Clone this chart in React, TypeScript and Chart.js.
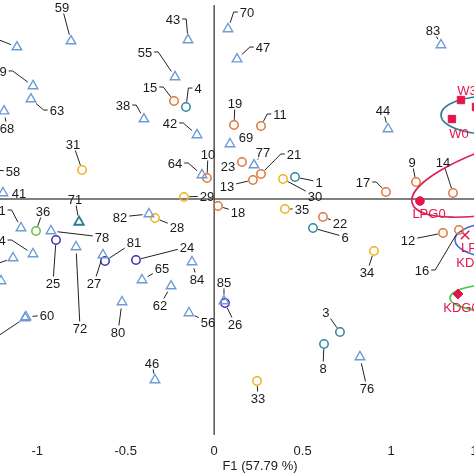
import React, { useEffect, useRef } from 'react';
import { Chart, registerables } from 'chart.js';

Chart.register(...registerables);

// ---------- data: [label, F1, F2] ----------
type P = [string, number, number];
// placement of label relative to marker: [dx px, dy px, mode] mode: 0 leader, 1 hooked leader, -1 no leader
type Pl = [number, number, number] | null;

const triPoints: P[] = [
  ['', -1.115, 0.859], ['59', -0.8095, 0.893], ['9', -1.024, 0.639], ['63', -1.036, 0.565],
  ['68', -1.188, 0.497], ['38', -0.397, 0.452], ['43', -0.148, 0.899], ['55', -0.2216, 0.69],
  ['42', -0.0972, 0.362], ['70', 0.078, 0.961], ['47', 0.129, 0.791], ['69', 0.0893, 0.311],
  ['64', -0.069, 0.1357], ['77', 0.225, 0.192], ['82', -0.3686, -0.0848], ['84', -0.1255, -0.356],
  ['65', -0.408, -0.458], ['62', -0.244, -0.492], ['85', 0.0554, -0.5766], ['56', -0.1425, -0.6444],
  ['46', -0.3347, -1.0232], ['80', -0.521, -0.5822], ['72', -0.781, -0.2713], ['78', -0.9226, -0.1809],
  ['27', -0.6286, -0.3166], ['1', -1.092, -0.164], ['4', -1.024, -0.311], ['', -1.137, -0.3335],
  ['', -1.205, -0.4635], ['41', -1.194, 0.0339], ['60', -1.0639, -0.667], ['', -1.0695, -0.6727],
  ['83', 1.282, 0.8706], ['44', 0.9825, 0.3957], ['76', 0.824, -0.893], ['58', -1.2787, 0.164],
];
const triPlace: Pl[] = [
  [-25, -10, 0], [-9, -34, 0], [-30, -15, 1], [26, 11, 1],
  [3, 17, 0], [-21, -14, 1], [-15, -21, 1], [-30, -25, 1],
  [-27, -12, 1], [19, -17, 1], [26, -12, 1], [16, -7, 0],
  [-27, -12, 1], [9, -13, 0], [-29, 3, 0], [5, 17, 0],
  [20, -12, 0], [-11, 19, 0], [0, -19, 0], [19, 9, 0],
  [-3, -17, 0], [-4, 30, 0], [4, 81, 0], [51, 6, 0],
  [-9, 28, 0], [-19, -18, 1], [-31, -14, 1], [-25, 9, 0],
  null, [16, 0, -1], [21, -2, 0], [-30, 20, 0],
  [-8, -15, 0], [-5, -19, 0], [7, 31, 0], [25, 1, 0],
];

const tealTriPoints: P[] = [['71', -0.764, -0.13]];
const tealTriPlace: Pl[] = [[-4, -23, 0]];

const orangePoints: P[] = [
  ['15', -0.227, 0.554], ['19', 0.112, 0.418], ['11', 0.2646, 0.4127], ['10', -0.0407, 0.1187],
  ['23', 0.157, 0.209], ['21', 0.2646, 0.1413], ['13', 0.219, 0.1074], ['18', 0.0215, -0.0396],
  ['22', 0.615, -0.1018], ['17', 0.971, 0.0396], ['9', 1.1408, 0.0961], ['14', 1.35, 0.0339],
  ['12', 1.2934, -0.1922], ['16', 1.3838, -0.1752],
];
const orangePlace: Pl[] = [
  [-24, -14, 1], [1, -22, 0], [19, -12, 1], [1, -24, 0],
  [-14, 4, -1], [33, -20, 1], [-26, 6, 0], [20, 6, 0],
  [17, 6, 0], [-23, -10, 1], [-4, -20, 0], [-10, -31, 0],
  [-35, 7, 0], [-37, 40, 1],
];

const yellowPoints: P[] = [
  ['31', -0.747, 0.164], ['29', -0.1707, 0.0113], ['30', 0.389, 0.113], ['35', 0.4, -0.0565],
  ['28', -0.3347, -0.1074], ['34', 0.9033, -0.294], ['33', 0.242, -1.0288],
];
const yellowPlace: Pl[] = [[-9, -26, 0], [23, -1, 0], [32, 17, 0], [17, 0, 0], [22, 9, 0], [-7, 21, 0], [1, 17, 0]];

const tealPoints: P[] = [
  ['4', -0.1594, 0.52], ['1', 0.4568, 0.1244], ['6', 0.5585, -0.164], ['3', 0.711, -0.752], ['8', 0.6207, -0.8197],
];
const tealPlace: Pl[] = [[12, -19, 1], [24, 5, 0], [32, 9, 0], [-14, -20, 0], [-1, 24, 0]];

const bluePoints: P[] = [
  ['25', -0.8943, -0.2318], ['81', -0.6173, -0.3505], ['24', -0.442, -0.3448], ['26', 0.061, -0.588],
];
const bluePlace: Pl[] = [[-3, 43, 0], [29, -19, 0], [51, -13, 0], [10, 21, 0]];

const greenPoints: P[] = [['36', -1.0073, -0.1809]];
const greenPlace: Pl[] = [[7, -20, 0]];

const wPoints: P[] = [['W3', 1.395, 0.5596], ['W0', 1.344, 0.452], ['', 1.48, 0.52]];
const wPlace: Pl[] = [[6, -10, -1], [7, 14, -1], null];
const lpgPoints: P[] = [['LPG0', 1.1634, -0.0113]];
const lpgPlace: Pl[] = [[9, 12, -1]];
const lpPoints: P[] = [['LP', 1.4178, -0.2035]];
const lpPlace: Pl[] = [[4, 12, -1]];
const kdgPoints: P[] = [['KDG0', 1.378, -0.537], ['KDG', 1.55, -0.3]];
const kdgPlace: Pl[] = [[3, 13, -1], [-18, 10, -1]];

// confidence ellipses: [cx, cy, semi-major, semi-minor, angle deg]
const ellipseParams: [number, number, number, number, number][] = [
  [1.559, 0.4748, 0.277, 0.1074, 0],
  [1.774, 0.1526, 0.678, 0.192, 15],
  [1.6156, -0.2318, 0.2544, 0.1018, 0],
  [1.6156, -0.5596, 0.2826, 0.0791, 0],
];
const ellipseColors = ['#2d7d95', '#dc1f55', '#4a6ad8', '#44c844'];

const xTickValues = [-1, -0.5, 0, 0.5, 1, 1.5];
const xTitle = 'F1 (57.79 %)';
const X_MIN = -1.2108, X_MAX = 1.7287, Y_MIN = -1.3341, Y_MAX = 1.0967;

const FONT = '"Liberation Sans", Arial, sans-serif';
const CRIMSON = '#e3164b';

function mk(points: P[], place: Pl[], style: any, labelColor = '#1a1a1a') {
  return {
    data: points.map(([label, x, y]) => ({ x, y, label })),
    placements: place,
    labelColor,
    markerGap: (style.pointRadius || 4) + 1,
    showLine: false,
    ...style,
  };
}

const labelPlugin = {
  id: 'pointLabels',
  afterDatasetsDraw(chart: any) {
    const ctx = chart.ctx;
    ctx.save();
    ctx.font = `13px ${FONT}`;
    chart.data.datasets.forEach((ds: any, di: number) => {
      const meta = chart.getDatasetMeta(di);
      meta.data.forEach((el: any, i: number) => {
        const pl = ds.placements[i];
        if (!pl) return;
        const text: string = ds.data[i].label;
        const [dx, dy, mode] = pl;
        const px = el.x, py = el.y;
        const lx = px + dx, ly = py + dy;
        const w = text ? ctx.measureText(text).width / 2 + 2 : 0;
        const h = text ? 6.5 : 0;
        if (text) {
          ctx.fillStyle = ds.labelColor;
          ctx.textAlign = 'center';
          ctx.textBaseline = 'alphabetic';
          ctx.fillText(text, lx, ly + 4.7);
        }
        if (mode < 0) return;
        const r = ds.markerGap;
        ctx.strokeStyle = '#222';
        ctx.lineWidth = 1;
        ctx.beginPath();
        let sx: number, sy: number;
        if (mode === 1) {
          const side = px >= lx ? 1 : -1;
          const hx0 = lx + side * w;
          sx = hx0 + side * 4;
          sy = ly;
          ctx.moveTo(hx0, ly);
          ctx.lineTo(sx, sy);
        } else {
          const vx = px - lx, vy = py - ly;
          const tx = vx !== 0 ? w / Math.abs(vx) : Infinity;
          const ty = vy !== 0 ? h / Math.abs(vy) : Infinity;
          const t = Math.min(tx, ty, 1);
          sx = lx + vx * t;
          sy = ly + vy * t;
          ctx.moveTo(sx, sy);
        }
        const d = Math.hypot(px - sx, py - sy);
        if (d <= r + 1) return;
        const ex = px - ((px - sx) / d) * r;
        const ey = py - ((py - sy) / d) * r;
        ctx.lineTo(ex, ey);
        ctx.stroke();
      });
    });
    ctx.restore();
  },
};

const axesPlugin = {
  id: 'zeroAxesEllipses',
  beforeDatasetsDraw(chart: any) {
    const { ctx, chartArea, scales } = chart;
    const xs = scales.x, ys = scales.y;
    const x0 = xs.getPixelForValue(0);
    const y0 = ys.getPixelForValue(0);
    ctx.save();
    ctx.strokeStyle = '#555';
    ctx.lineWidth = 1.5;
    ctx.beginPath();
    ctx.moveTo(0, y0);
    ctx.lineTo(chart.width, y0);
    ctx.moveTo(x0, chartArea.top);
    ctx.lineTo(x0, chartArea.bottom);
    ctx.stroke();
    const kx = Math.abs(xs.getPixelForValue(1) - xs.getPixelForValue(0));
    const ky = Math.abs(ys.getPixelForValue(1) - ys.getPixelForValue(0));
    ellipseParams.forEach(([cx, cy, a, b, ang], i) => {
      ctx.beginPath();
      ctx.strokeStyle = ellipseColors[i];
      ctx.lineWidth = 1.6;
      ctx.ellipse(xs.getPixelForValue(cx), ys.getPixelForValue(cy), a * kx, b * ky, (-ang * Math.PI) / 180, 0, Math.PI * 2);
      ctx.stroke();
    });
    ctx.restore();
  },
};

export default function App() {
  const ref = useRef<HTMLCanvasElement>(null);
  useEffect(() => {
    Chart.defaults.font.family = FONT;
    const tri = { pointStyle: 'triangle', pointRadius: 5.5, borderWidth: 1.4, borderColor: '#6e9bd6', backgroundColor: 'rgba(255,255,255,0)' };
    const circ = (c: string) => ({ pointStyle: 'circle', pointRadius: 4.2, borderWidth: 1.5, borderColor: c, backgroundColor: 'rgba(255,255,255,0)' });
    const datasets: any[] = [
      mk(triPoints, triPlace, tri),
      mk(tealTriPoints, tealTriPlace, { ...tri, borderColor: '#2b7f8c', borderWidth: 1.8 }),
      mk(orangePoints, orangePlace, circ('#e0763a')),
      mk(yellowPoints, yellowPlace, circ('#efb21a')),
      mk(tealPoints, tealPlace, circ('#2e86a0')),
      mk(bluePoints, bluePlace, circ('#3b2db8')),
      mk(greenPoints, greenPlace, circ('#62bf3a')),
      mk(wPoints, wPlace, { pointStyle: 'rect', pointRadius: 5.2, borderWidth: 1, borderColor: CRIMSON, backgroundColor: CRIMSON }, CRIMSON),
      mk(lpgPoints, lpgPlace, { pointStyle: 'circle', pointRadius: 4.3, borderWidth: 1, borderColor: CRIMSON, backgroundColor: CRIMSON }, CRIMSON),
      mk(lpPoints, lpPlace, { pointStyle: 'crossRot', pointRadius: 6, borderWidth: 1.5, borderColor: CRIMSON, backgroundColor: CRIMSON }, CRIMSON),
      mk(kdgPoints, kdgPlace, { pointStyle: 'rectRot', pointRadius: 5, borderWidth: 1, borderColor: CRIMSON, backgroundColor: CRIMSON }, CRIMSON),
    ];
    const chart = new Chart(ref.current as HTMLCanvasElement, {
      type: 'scatter',
      data: { datasets },
      options: {
        animation: false,
        responsive: false,
        devicePixelRatio: 1,
        layout: { padding: { left: 0, right: 0, top: 5, bottom: 0 }, autoPadding: false },
        plugins: { legend: { display: false }, tooltip: { enabled: false } },
        scales: {
          x: {
            type: 'linear',
            position: 'bottom',
            min: X_MIN,
            max: X_MAX,
            grid: { display: false, drawTicks: false },
            border: { display: false },
            afterBuildTicks: (scale: any) => {
              scale.ticks = xTickValues.map((v) => ({ value: v }));
            },
            afterFit: (scale: any) => {
              scale.paddingLeft = 0;
              scale.paddingRight = 0;
            },
            ticks: {
              autoSkip: false,
              maxRotation: 0,
              padding: 8.2,
              color: '#222',
              font: { size: 13, family: FONT },
              callback: (v: any) => String(v),
            },
            title: {
              display: true,
              text: xTitle,
              color: '#222',
              font: { size: 13, family: FONT },
              padding: { top: -8.6, bottom: 0 },
            },
          },
          y: {
            type: 'linear',
            display: false,
            min: Y_MIN,
            max: Y_MAX,
          },
        },
      } as any,
      plugins: [axesPlugin, labelPlugin],
    });
    return () => chart.destroy();
  }, []);
  return (
    <div style={{ position: 'absolute', left: 0, top: 0, width: 474, height: 474, overflow: 'hidden', background: '#fff' }}>
      <canvas ref={ref} width={520} height={474} style={{ display: 'block', width: 520, height: 474 }} />
    </div>
  );
}
